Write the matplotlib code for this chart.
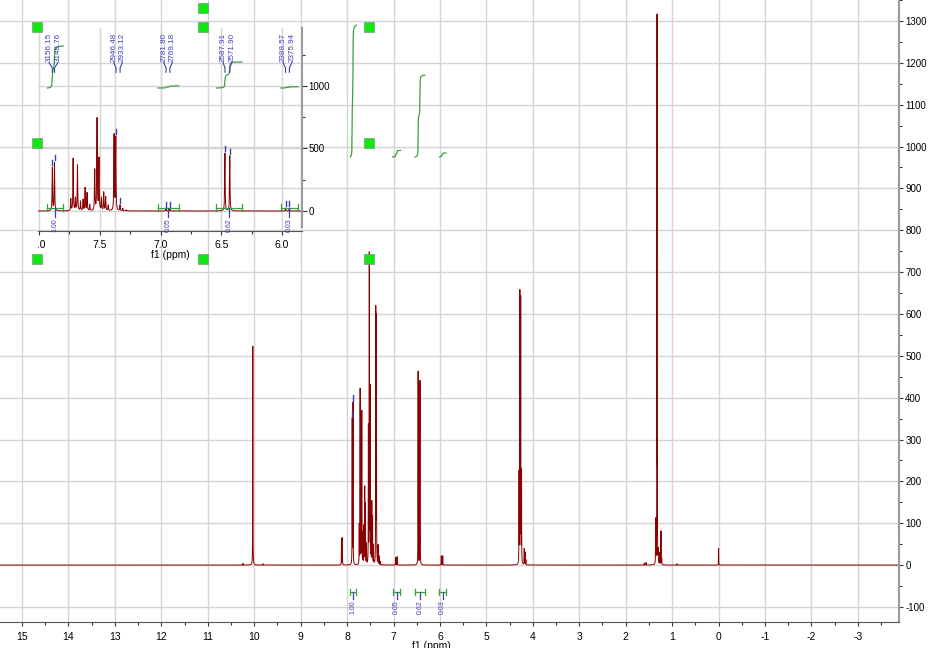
import numpy as np
import matplotlib
matplotlib.use("Agg")
import matplotlib.pyplot as plt
from matplotlib.patches import Rectangle
from matplotlib.ticker import MultipleLocator
from matplotlib.transforms import Bbox, TransformedBbox

plt.rcParams['font.family'] = ['Liberation Sans', 'DejaVu Sans']
plt.rcParams['axes.unicode_minus'] = False

# peak table: shift (ppm) and intensity
peak_ppm = [10.24, 10.03, 9.81,
            8.120, 8.102, 7.890, 7.872, 7.738, 7.719, 7.700, 7.683, 7.658,
            7.637, 7.620, 7.604, 7.582, 7.541, 7.522, 7.506, 7.486, 7.467,
            7.451, 7.430, 7.382, 7.368, 7.333, 7.310, 7.280,
            6.955, 6.923, 6.470, 6.430, 5.971, 5.940,
            4.297, 4.279, 4.261, 4.243, 4.185, 4.168, 4.150,
            1.600, 1.560, 1.355, 1.326, 1.318, 1.300, 1.265, 1.240, 1.225,
            0.896, 0.000]
peak_height = [4, 523, 3,
               62, 65, 345, 384, 93, 418, 100, 365, 75,
               90, 183, 143, 48, 325, 735, 415, 100, 147,
               112, 45, 605, 585, 45, 20, 8,
               18, 20, 462, 440, 22, 22,
               215, 645, 630, 218, 38, 30, 12,
               5, 6, 105, 1305, 150, 30, 28, 80, 15,
               3, 40]
line_hw = 0.0022          # lorentzian half width, ppm

# integration regions (ppm) and their labels
int_hi = [7.93, 7.02, 6.54, 6.01]
int_lo = [7.80, 6.85, 6.33, 5.87]
int_val = [1.00, 0.05, 0.62, 0.03]
int_text = ["1.00", "0.05", "0.62", "0.03"]

# picked peaks (Hz at 400 MHz)
pick_hz = [3156.15, 3148.76, 2946.48, 2933.12, 2781.80, 2769.18,
           2587.91, 2571.90, 2388.57, 2375.94]
spec_mhz = 400.0

RED = "#8b0000"
GREEN = "#3ca03c"
BLUE = "#3d3db5"
GRID = "#d4d4d4"

W, H = 946.0, 648.0


def px_rect(x0, y0, x1, y1):
    # pixel box (origin top-left) -> figure fraction [l, b, w, h]
    return [x0 / W, 1 - y1 / H, (x1 - x0) / W, (y1 - y0) / H]


ppm = np.arange(-3.9, 15.5, 0.0002)
spec = np.zeros_like(ppm)
for p, h in zip(peak_ppm, peak_height):
    spec += h * line_hw ** 2 / (line_hw ** 2 + (ppm - p) ** 2)


def spec_at(p):
    m = np.abs(ppm - p) < 0.002
    return spec[m].max()


def draw_integrals(a, base, scale, bar_y, cap, stem_to, text_y, fs):
    for lo, hi, val, txt in zip(int_lo, int_hi, int_val, int_text):
        m = (ppm >= lo) & (ppm <= hi)
        x = ppm[m]
        # running integral from the high-ppm end of the region
        cum = np.cumsum(spec[m][::-1])[::-1]
        cum = cum - cum.min()
        a.plot(x, base + val * scale * cum / cum.max(), color=GREEN, lw=0.9)
        a.plot([lo, hi], [bar_y, bar_y], color=GREEN, lw=0.9)
        a.plot([lo, lo], [bar_y - cap, bar_y + cap], color=GREEN, lw=0.9)
        a.plot([hi, hi], [bar_y - cap, bar_y + cap], color=GREEN, lw=0.9)
        mid = 0.5 * (lo + hi)
        a.plot([mid, mid], [bar_y, stem_to], color=BLUE, lw=0.9)
        a.text(mid, text_y, txt, rotation=90, ha="center", va="top",
               fontsize=fs, color=BLUE)


fig = plt.figure(figsize=(W / 100, H / 100), dpi=100)

# ---- main spectrum
ax = fig.add_axes(px_rect(0, 0, 899, 622))
ax.plot(ppm, spec, color=RED, lw=0.7)
ax.set_xlim(15.474, -3.885)
ax.set_ylim(-136, 1350)
ax.xaxis.set_major_locator(MultipleLocator(1))
ax.xaxis.set_minor_locator(MultipleLocator(0.5))
ax.yaxis.set_major_locator(MultipleLocator(100))
ax.yaxis.set_minor_locator(MultipleLocator(50))
ax.grid(True, which="major", color=GRID, lw=1)
ax.set_axisbelow(True)
for s in ("left", "top"):
    ax.spines[s].set_visible(False)
ax.spines["right"].set_color("#9a9a9a")
ax.spines["right"].set_linewidth(1.5)
ax.spines["bottom"].set_color("#555555")
ax.yaxis.tick_right()
ax.tick_params(axis="x", which="major", length=3, width=0.8, pad=4.5,
               labelsize=7.5, colors="#333333", labelcolor="black")
ax.tick_params(axis="x", which="minor", length=2, width=0.8, colors="#333333")
ax.tick_params(axis="y", which="major", length=3, width=0.8, pad=1.5,
               labelsize=7, colors="#333333", labelcolor="black")
ax.tick_params(axis="y", which="minor", length=2, width=0.8, colors="#333333")
ax.set_xlabel("f1 (ppm)", fontsize=7.5)
ax.xaxis.set_label_coords(0.48, -0.031)

draw_integrals(ax, 975, 315, -65, 7, -82, -85, 5)
for hz in pick_hz[:2]:
    p = hz / spec_mhz
    h = spec_at(p)
    ax.plot([p, p], [h + 2, h + 16], color=BLUE, lw=1)

# ---- inset, zoom on the aromatic region
ax_in = fig.add_axes(px_rect(38, 28, 302, 231))
ax_in.set_facecolor("none")
ax_in.plot(ppm, spec, color=RED, lw=0.7)
ax_in.set_xlim(8.008, 5.836)
ax_in.set_ylim(-160, 1464)
ax_in.xaxis.set_major_locator(MultipleLocator(0.5))
ax_in.xaxis.set_minor_locator(MultipleLocator(0.25))
ax_in.yaxis.set_major_locator(MultipleLocator(500))
ax_in.yaxis.set_minor_locator(MultipleLocator(250))
ax_in.grid(True, which="major", color=GRID, lw=1)
ax_in.set_axisbelow(True)
for s in ("left", "top"):
    ax_in.spines[s].set_visible(False)
ax_in.spines["right"].set_color("#9a9a9a")
ax_in.spines["right"].set_linewidth(1.5)
ax_in.spines["right"].set_bounds(-128, 1464)
ax_in.spines["bottom"].set_color("#555555")
ax_in.yaxis.tick_right()
ax_in.tick_params(axis="x", which="major", length=3, width=0.8, pad=3.5,
                  labelsize=7.5, colors="#333333", labelcolor="black")
ax_in.tick_params(axis="x", which="minor", length=2, width=0.8, colors="#333333")
ax_in.tick_params(axis="y", which="major", length=3.5, width=0.8, pad=1,
                  labelsize=7, colors="#333333", labelcolor="black")
ax_in.tick_params(axis="y", which="minor", length=2, width=0.8, colors="#333333")
ax_in.set_xlabel("f1 (ppm)", fontsize=7.5)
ax_in.xaxis.set_label_coords(0.5, -0.094)

# the inset frame cuts its leftmost tick label
clip = TransformedBbox(Bbox.from_extents(37.5 / W, 0, 1, 1), fig.transFigure)
for lbl in ax_in.get_xticklabels():
    lbl.set_clip_box(clip)
    lbl.set_clip_on(True)

draw_integrals(ax_in, 984, 336, 27, 25, -52, -58, 5)

pick_ppm = [hz / spec_mhz for hz in pick_hz]
for i in range(0, len(pick_hz), 2):
    p1, p2 = pick_ppm[i], pick_ppm[i + 1]
    mid = 0.5 * (p1 + p2)
    for hz, p, lx in ((pick_hz[i], p1, mid + 0.035), (pick_hz[i + 1], p2, mid - 0.035)):
        ax_in.text(lx, 1190, "%.2f" % hz, rotation=90, ha="center", va="bottom",
                   fontsize=5.8, color=BLUE)
        ax_in.plot([lx, p, p], [1185, 1145, 1110], color=BLUE, lw=0.8)
        h = spec_at(p)
        ax_in.plot([p, p], [h + 15, h + 55], color=BLUE, lw=1)

# selection handles around the inset box
bx0, bx1, by0, by1 = 37, 369, 27, 259
hx = [bx0, 0.5 * (bx0 + bx1), bx1]
hy = [by0, 0.5 * (by0 + by1), by1]
handles = [(x, y) for y in hy for x in hx if not (x == hx[1] and y == hy[1])]
handles.append((hx[1], by0 - 19))
for x, y in handles:
    fig.add_artist(Rectangle(((x - 5) / W, 1 - (y + 5) / H), 10 / W, 10 / H,
                             transform=fig.transFigure, facecolor="#14e614",
                             edgecolor="#6f9f6f", lw=0.5, zorder=20))

fig.savefig("out.png", dpi=100)
plt.close(fig)
